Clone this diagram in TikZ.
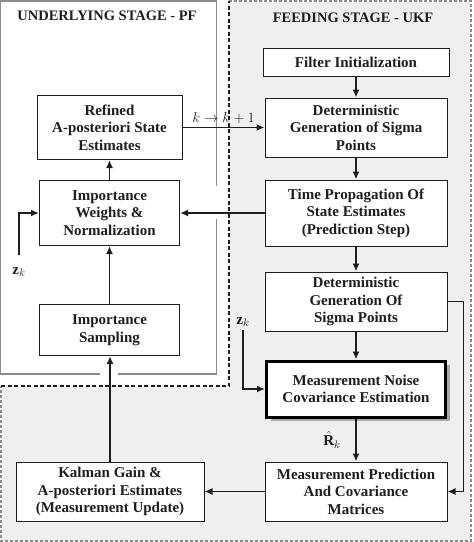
\documentclass[tikz,border=0pt]{standalone}
\usepackage{fontspec}
\setmainfont{Liberation Serif}
\usetikzlibrary{arrows.meta,positioning,shadows}
\definecolor{ink}{HTML}{1E1E1E}
\definecolor{rimc}{HTML}{8A8A8A}
\definecolor{ukfbg}{HTML}{EFEFEF}
\definecolor{sh}{HTML}{A8A8A8}

\begin{document}
\begin{tikzpicture}[
    x=1pt, y=-1pt,
    box/.style={draw=ink, line width=1pt, fill=white, align=center,
                font=\bfseries\fontsize{15}{17.5}\selectfont, text=ink, inner sep=2pt},
    ukf/.style={box, minimum width=182pt, minimum height=59pt},
    pf/.style={box, minimum width=140pt},
    keyb/.style={box, line width=3pt, draw=black, minimum width=179pt, minimum height=56pt,
                 drop shadow={shadow xshift=4pt, shadow yshift=-4pt, fill=sh, opacity=1}},
    ttl/.style={font=\bfseries\fontsize{14.5}{17}\selectfont, text=ink},
    ar/.style={-{Latex[length=8pt,width=7pt]}, line width=1.8pt, draw=ink},
    lab/.style={font=\fontsize{15}{17}\selectfont, text=ink},
    innerdash/.style={dash pattern=on 4pt off 2.5pt, line width=1.5pt, draw=ink},
    outerdash/.style={dash pattern=on 3pt off 2pt, line width=1.5pt, draw=rimc}
]
\useasboundingbox (0,0) rectangle (474,542);

% stage frames
\fill[ukfbg] (229,1) -- (471,1) -- (471,541) -- (1,541) -- (1,386) -- (229,386) -- cycle;
\draw[outerdash] (229,1) -- (471,1) -- (471,541) -- (1,541) -- (1,386);
\draw[innerdash] (1,386) -- (229,386) -- (229,1);
\draw[rimc, line width=1.2pt] (216.5,186) -- (216.5,1) -- (0.5,1) -- (0.5,374) -- (100,374)
    (118,374) -- (216.5,374) -- (216.5,219);

\node[ttl] (pft)  at (107,16) {UNDERLYING STAGE - PF};
\node[ttl] (ukft) at (353,18) {FEEDING STAGE - UKF};

% UKF column
\node[ukf, minimum width=186pt, minimum height=28pt] (fi) at (356,62) {Filter Initialization};
\node[ukf, below=21pt of fi]  (dg1) {Deterministic\\Generation of Sigma\\Points};
\node[ukf, below=22pt of dg1, minimum height=66pt]
                              (tp)  {Time Propagation Of\\State Estimates\\(Prediction Step)};
\node[ukf, below=25pt of tp]  (dg2) {Deterministic\\Generation Of\\Sigma Points};
\node[keyb, below=28pt of dg2] (mnce) {Measurement Noise\\Covariance Estimation};
\node[ukf, below=43pt of mnce] (mp) {Measurement Prediction\\And Covariance\\Matrices};
\node[ukf, left=60pt of mp, minimum width=188pt]
                              (kg)  {Kalman Gain \&\\A-posteriori Estimates\\(Measurement Update)};

% PF column
\node[pf, left=82pt of dg1, minimum width=145pt, minimum height=64pt]
                              (ref) {Refined\\A-posteriori State\\Estimates};
\node[pf, below=20pt of ref, minimum height=65pt]
                              (iw)  {Importance\\Weights \&\\Normalization};
\node[pf, below=58pt of iw, minimum height=51pt]
                              (is)  {Importance\\Sampling};

\node[lab] (zl) at (19,272)  {$\mathbf{z}_k$};
\node[lab] (zr) at (243,322) {$\mathbf{z}_k$};

\draw[ar] (fi) -- (dg1);
\draw[ar] (dg1) -- (tp);
\draw[ar] (tp) -- (dg2);
\draw[ar] (dg2) -- (mnce);
\draw[ar] (mnce) -- node[lab, left=11pt]{$\hat{\mathbf{R}}_k$} (mp);
\draw[ar] (dg2.east) -- ++(16,0) |- (mp.east);
\draw[ar] (zr.south) |- (mnce.west);
\draw[ar] (mp) -- (kg);
\draw[ar] (kg) -- (kg |- is.south);
\draw[ar] (is) -- (iw);
\draw[ar] (iw) -- (ref);
\draw[ar] (ref) -- node[lab, above]{$k\rightarrow k+1$} (dg1);
\draw[ar] (tp) -- (iw);
\draw[ar] ([yshift=9pt]zl.north) |- (iw.west);
\end{tikzpicture}
\end{document}
